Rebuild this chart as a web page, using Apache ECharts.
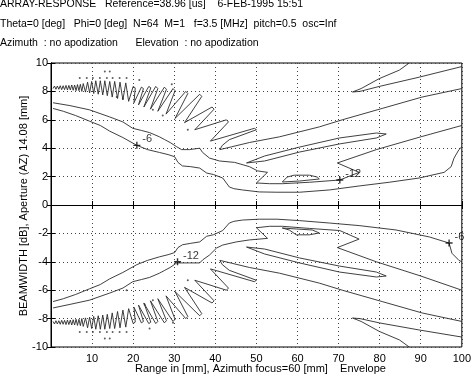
<!DOCTYPE html>
<html><head><meta charset="utf-8">
<script src="https://cdn.jsdelivr.net/npm/echarts@6/dist/echarts.min.js"></script>
<style>html,body{margin:0;padding:0;background:#fff}#c{width:474px;height:375px}</style>
</head><body><div id="c"></div><script>
// ---------- data (data coordinates: x = range [mm], y = aperture [mm]) ----------
var titleLines = [
  'ARRAY-RESPONSE   Reference=38.96 [us]    6-FEB-1995 15:51',
  'Theta=0 [deg]   Phi=0 [deg]  N=64  M=1   f=3.5 [MHz]  pitch=0.5  osc=Inf',
  'Azimuth  : no apodization      Elevation  : no apodization'
];
var xAxisTitle = 'Range in [mm], Azimuth focus=60 [mm]    Envelope';
var yAxisTitle = 'BEAMWIDTH [dB], Aperture (AZ) 14.08 [mm]';
var xTicks = [10,20,30,40,50,60,70,80,90,100];
var yTicks = [-10,-8,-6,-4,-2,0,2,4,6,8,10];

// -6 dB contour, upper branch
var c6Upper = [[0.5,6.8],[3,6.6],[6,6.3],[9.4,5.9],[12,5.6],[14.3,5.2],[17.5,4.75],[20.9,4.2],[23.5,3.9],[26.4,3.7],[28.5,3.55],[30.1,3.4],[30.9,3.0],[32,2.75],[34,2.7],[36.2,2.6],[37.9,2.25],[39.5,2.15],[41.8,1.9],[43.4,1.27],[44.5,1.15],[46.6,1.06],[50.7,0.92],[55,0.9],[60.5,0.9],[67.8,1.06],[75,1.34],[82.3,1.6],[89.6,1.9],[95.7,2.3],[97.4,2.7],[98.1,3.3],[99.3,3.9],[100,4.1]];
// -6 dB contour, lower branch
var c6Lower = [[0.5,-6.8],[3,-6.6],[6,-6.3],[9.4,-5.9],[12,-5.6],[14.3,-5.2],[17.5,-4.75],[20.9,-4.2],[23.5,-3.9],[26.4,-3.65],[28.5,-3.5],[30.1,-3.35],[30.9,-3.0],[32,-2.8],[34,-2.7],[36.2,-2.6],[37.9,-2.2],[39.5,-2.1],[41.8,-1.8],[43.4,-1.27],[44.5,-1.15],[46.6,-1.06],[50.7,-1.0],[55,-1.0],[60.5,-1.1],[67.8,-1.27],[75,-1.45],[84.0,-1.76],[92.1,-2.25],[96.9,-2.68],[97.6,-3.4],[99.3,-3.9],[100,-4.0]];
// -12 dB contour, upper branch
var c12Upper = [[0.5,7.2],[4.6,7.0],[9.4,6.7],[14.3,6.2],[17.5,5.85],[19.9,5.4],[22,5.25],[24,5.1],[26.4,4.8],[27.7,4.6],[29,4.4],[30.6,4.1],[31.8,3.9],[33.7,3.9],[36.2,4.0],[36.9,3.7],[38.6,3.3],[41,3.1],[44.7,3.0],[48.3,2.7],[50.3,2.4],[52.7,2.3],[50.0,1.55],[53.2,1.5],[56.3,1.5],[62.9,1.6],[70.3,1.76],[75,2.3],[69.7,2.96],[79.2,3.9],[90,4.8],[100,5.6]];
// -12 dB contour, lower branch
var c12Lower = [[0.5,-7.25],[4.6,-7.0],[9.4,-6.7],[14.3,-6.2],[17.5,-5.85],[19.9,-5.4],[22,-5.25],[24,-5.1],[26.4,-4.8],[27.7,-4.6],[29,-4.4],[30.6,-4.08],[33.7,-4.08],[36.2,-4.08],[36.9,-3.87],[38.6,-3.52],[40.3,-3.03],[41.8,-2.82],[45.1,-2.6],[48.3,-2.46],[52.7,-2.35],[50.0,-1.6],[53.2,-1.5],[56.3,-1.5],[62.9,-1.65],[70.3,-1.8],[75,-2.4],[69.7,-3.0],[79.2,-4.0],[90,-5.0],[100,-6.0]];
// side-lobe comb + long rising contour, upper
var combUpper = [[0.5,8.2],[0.85,8.38],[1.2,8.15],[1.55,8.38],[1.9,8.15],[2.25,8.4],[2.6,8.12],[2.95,8.4],[3.3,8.12],[3.65,8.42],[4.0,8.1],[4.35,8.42],[4.7,8.1],[5.05,8.45],[5.4,8.08],[5.75,8.45],[6.1,8.05],[6.45,8.48],[6.8,8.05],[7.15,8.5],[7.5,8.0],[7.85,8.55],
  [8.4,7.95],[8.9,8.65],[9.4,7.9],[9.9,8.7],[10.4,7.85],[10.9,8.75],[11.5,7.8],[12.0,8.75],[12.6,7.75],[13.1,8.75],[13.7,7.7],[14.3,8.7],[14.9,7.6],[15.5,8.7],[16.2,7.5],[16.8,8.65],[17.5,7.4],[18.2,8.6],[18.9,7.3],
  [20.0,8.35],[20.5,8.25],[20.2,7.2],[22.0,8.3],[22.5,8.2],[21.3,7.05],[23.8,8.35],[24.3,8.25],[22.6,6.9],[25.5,8.35],[26.0,8.2],[24.2,6.75],[27.6,8.3],[28.1,8.15],[26.0,6.6],[29.7,8.2],[30.2,8.05],[28.0,6.4],[32.8,8.0],[33.3,7.85],[30.2,6.1],[36.2,7.8],[36.7,7.65],[32.5,5.8],[39.2,6.9],[39.7,6.75],[35.0,5.3],[42.7,6.0],[43.2,5.85],[38.8,4.5],[49.5,5.4],[50.0,5.3],[43.4,4.6],[41.7,4.2],[41.1,3.9],
  [44,4.1],[48.3,4.4],[55.6,4.8],[65.3,5.5],[70.9,6.0],[80.6,6.8],[90.3,7.6],[100,8.2]];
// side-lobe comb + long falling contour, lower
var combLower = [[0.5,-8.2],[0.85,-8.38],[1.2,-8.15],[1.55,-8.38],[1.9,-8.15],[2.25,-8.4],[2.6,-8.12],[2.95,-8.4],[3.3,-8.12],[3.65,-8.42],[4.0,-8.1],[4.35,-8.42],[4.7,-8.1],[5.05,-8.45],[5.4,-8.08],[5.75,-8.45],[6.1,-8.05],[6.45,-8.48],[6.8,-8.05],[7.15,-8.5],[7.5,-8.0],[7.85,-8.55],
  [8.4,-7.95],[8.9,-8.65],[9.4,-7.9],[9.9,-8.7],[10.4,-7.85],[10.9,-8.75],[11.5,-7.8],[12.0,-8.75],[12.6,-7.75],[13.1,-8.75],[13.7,-7.7],[14.3,-8.7],[14.9,-7.6],[15.5,-8.7],[16.2,-7.5],[16.8,-8.65],[17.5,-7.4],[18.2,-8.6],[18.9,-7.3],
  [20.0,-8.35],[20.5,-8.25],[20.2,-7.2],[22.0,-8.3],[22.5,-8.2],[21.3,-7.05],[23.8,-8.35],[24.3,-8.25],[22.6,-6.9],[25.5,-8.35],[26.0,-8.2],[24.2,-6.75],[27.6,-8.3],[28.1,-8.15],[26.0,-6.6],[29.7,-8.2],[30.2,-8.05],[28.0,-6.4],[32.8,-8.0],[33.3,-7.85],[30.2,-6.1],[36.2,-7.8],[36.7,-7.65],[32.5,-5.8],[39.2,-6.9],[39.7,-6.75],[35.0,-5.3],[42.7,-6.0],[43.2,-5.85],[38.8,-4.5],[49.5,-5.4],[50.0,-5.3],[43.4,-4.6],[41.7,-4.2],[41.1,-3.9],
  [44,-4.1],[48.3,-4.4],[55.6,-4.8],[65.3,-5.5],[70.9,-6.0],[80.6,-6.8],[90.3,-7.6],[100,-8.2]];
// elongated closed lobes
var lobeUpper = [[47.6,2.96],[52,3.45],[60.5,4.08],[70.2,4.72],[79.2,5.07],[81.6,5.0],[79.2,4.72],[70.2,4.3],[60.5,3.73],[52,3.1],[47.6,2.96]];
var lobeLower = [[47.6,-2.96],[52,-3.45],[60.5,-4.08],[70.2,-4.72],[79.2,-5.07],[81.6,-5.0],[79.2,-4.72],[70.2,-4.3],[60.5,-3.73],[52,-3.1],[47.6,-2.96]];
// small islands near the focus
var islandUpper = [[56.3,1.62],[57.5,1.97],[59.2,2.1],[62.9,2.1],[64.8,1.97],[65.3,1.83],[60.5,1.69],[56.3,1.62]];
var islandLower = [[56.3,-1.62],[58,-1.76],[59.7,-2.1],[62.9,-2.1],[65.3,-1.97],[63.6,-1.76],[59.7,-1.69],[56.3,-1.62]];
// outer finger touching the frame
var tipUpper = [[87.2,10],[84.8,9.5],[79.9,8.9],[75.5,8.2],[73.4,7.96],[75.2,8.0],[79.9,8.35],[89.6,9.0],[100,9.75]];
var tipLower = [[87.2,-10],[84.8,-9.5],[79.9,-8.9],[75.5,-8.2],[73.4,-7.96],[75.2,-8.0],[79.9,-8.3],[89.6,-8.8],[100,-9.3]];
// tiny isolated contours (dots)
var dotsUpper = [[7.0,8.95],[8.7,8.95],[10.2,8.95],[11.9,8.95],[13.6,8.95],[15.0,8.95],[16.7,8.95],[18.4,8.95],[13.1,9.4],[14.3,9.4],[16.0,7.6],[17.5,7.5],[24.8,6.7],[27.2,6.3],[33.3,5.3],[21.5,8.8],[29.4,8.5]];
var dotsLower = [[7.0,-8.95],[8.7,-8.95],[10.2,-8.95],[11.9,-8.95],[13.6,-8.95],[15.0,-8.95],[16.7,-8.95],[18.4,-8.95],[13.1,-9.4],[14.3,-9.4],[18.4,-6.0],[22.8,-7.0],[24.8,-6.7],[29.7,-8.3],[24.0,-8.7],[33.3,-5.3]];
// contour level labels
var labelText = ['-6','-12','-12','-6'];
var labelPos = [[20.9,4.2],[70.3,1.76],[30.8,-4.0],[96.9,-2.68]];

// ---------- chart ----------
var lineColor = '#2a2a2a';
function contour(d){
  return {type:'line', data:d, showSymbol:false, symbol:'none', silent:true, animation:false,
    lineStyle:{color:lineColor, width:0.9}, z:3};
}
var contours = [c6Upper,c6Lower,c12Upper,c12Lower,combUpper,combLower,lobeUpper,lobeLower,islandUpper,islandLower,tipUpper,tipLower];
var series = contours.map(contour);
series.push({type:'scatter', data:dotsUpper.concat(dotsLower), symbol:'circle', symbolSize:2,
  itemStyle:{color:'#333'}, silent:true, animation:false, z:3});
series.push({type:'scatter', animation:false, silent:true, z:5,
  data: labelPos.map(function(p,i){return {value:p, name:labelText[i]};}),
  symbol:'path://M4,0H6V4H10V6H6V10H4V6H0V4H4Z', symbolSize:7, itemStyle:{color:'#000'},
  label:{show:true, position:'right', distance:2, offset:[0,-6], formatter:'{b}',
    fontFamily:'Liberation Sans', fontSize:11, color:'#000'}});

var gridCfg = {left:51, right:11.5, top:63, bottom:28, show:true, borderColor:'#000', borderWidth:1};
var dotted = {show:true, lineStyle:{color:'#444', type:[1,3], width:1}};
var chart = echarts.init(document.getElementById('c'), null, {renderer:'canvas'});
chart.setOption({
  animation:false,
  backgroundColor:'#fff',
  grid: gridCfg,
  xAxis:[{type:'value', min:0, max:100, interval:10, position:'bottom',
    axisLine:{show:true, lineStyle:{color:'#000'}}, axisTick:{show:true, inside:true, length:4, lineStyle:{color:'#000'}},
    axisLabel:{showMinLabel:false, color:'#000', fontFamily:'Liberation Sans', fontSize:11, margin:6,
      formatter:function(v){return xTicks.indexOf(v)>=0?String(v):'';}},
    splitLine:dotted},
   {type:'value', min:0, max:100, interval:10, position:'top',
    axisLine:{show:true, lineStyle:{color:'#000'}}, axisTick:{show:true, inside:true, length:4, lineStyle:{color:'#000'}},
    axisLabel:{show:false}, splitLine:{show:false}}],
  yAxis:[{type:'value', min:-10, max:10, interval:2, position:'left',
    axisLine:{show:true, lineStyle:{color:'#000'}}, axisTick:{show:true, inside:true, length:4, lineStyle:{color:'#000'}},
    axisLabel:{color:'#000', fontFamily:'Liberation Sans', fontSize:11, margin:3,
      formatter:function(v){return yTicks.indexOf(v)>=0?String(v):'';}},
    splitLine:dotted},
   {type:'value', min:-10, max:10, interval:2, position:'right',
    axisLine:{show:true, lineStyle:{color:'#000'}}, axisTick:{show:true, inside:true, length:4, lineStyle:{color:'#000'}},
    axisLabel:{show:false}, splitLine:{show:false}}],
  series: series,
  graphic:[
    {type:'text', silent:true, style:{text:titleLines[0], x:0, y:4, verticalAlign:'middle', font:'10.5px "Liberation Sans"', fill:'#000'}},
    {type:'text', silent:true, style:{text:titleLines[1], x:0, y:24, verticalAlign:'middle', font:'10.5px "Liberation Sans"', fill:'#000'}},
    {type:'text', silent:true, style:{text:titleLines[2], x:0, y:43.5, verticalAlign:'middle', font:'10.5px "Liberation Sans"', fill:'#000'}},
    {type:'text', silent:true, style:{text:xAxisTitle, x:135, y:368.5, verticalAlign:'middle', font:'11px "Liberation Sans"', fill:'#000'}},
    {type:'text', silent:true, x:24, y:206, rotation:Math.PI/2,
      style:{text:yAxisTitle, x:0, y:0, align:'center', verticalAlign:'middle', font:'11px "Liberation Sans"', fill:'#000'}}
  ]
});
</script></body></html>
